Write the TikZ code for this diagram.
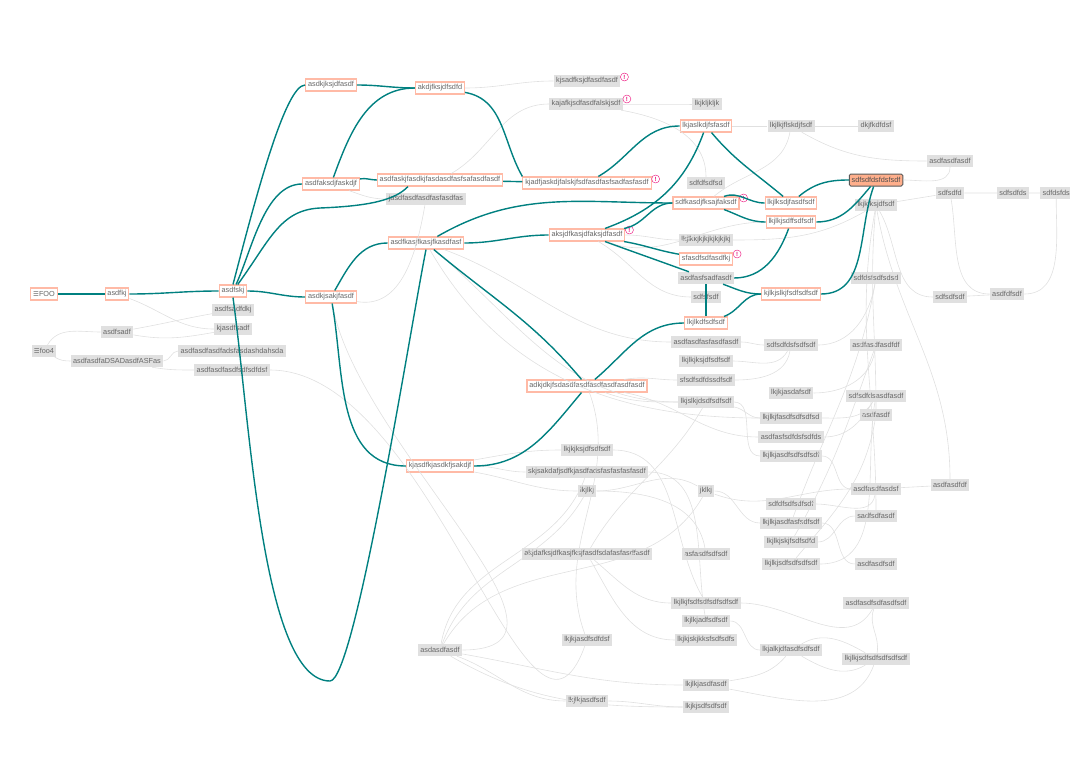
\documentclass[tikz,border=0pt]{standalone}
\usepackage{fontspec}
\setmainfont{Liberation Sans}
\newfontfamily\symf{DejaVu Sans}
\begin{document}
\begin{tikzpicture}[x=1pt,y=-1pt,
  every node/.style={font=\fontsize{7.3}{8}\selectfont,text=black!60,inner sep=2.4pt,minimum height=12pt},
  o/.style={draw=orange!45!red!35!white,line width=1.1pt,fill=white},
  g/.style={fill=black!12},
  h/.style={draw=black!65,fill=orange!60!red!45!white,line width=1pt,rounded corners=1.5pt,text=black!70},
  bang/.style={circle,draw=magenta!80!red,fill=white,text=magenta!80!red,inner sep=0pt,minimum size=8pt,minimum height=8pt,font=\fontsize{6}{6}\selectfont\bfseries},
  te/.style={draw=teal,line width=1.4pt},
  ge/.style={draw=black!12,line width=0.6pt}]
\useasboundingbox (0,0) rectangle (1070,757);
% nodes
\node[o] (foo) at (44,294) {{\symf\fontsize{6.5}{6}\selectfont ☰}FOO};
\node[o] (a1) at (117,294) {asdfkj};
\node[o] (a2) at (233,291) {asdfskj};
\node[g] (a3) at (233,310) {asdfsadfdkj};
\node[g] (a4) at (233,329) {kjasdfsadf};
\node[g] (a5) at (117,332) {asdfsadf};
\node[g] (foo4) at (44,351) {{\symf\fontsize{6.5}{6}\selectfont ☰}foo4};
\node[g] (a6) at (232,351) {asdfasdfasdfadsfasdashdahsda};
\node[g] (a7) at (117,361) {asdfasdfaDSADasdfASFas};
\node[g] (a8) at (232,370) {asdfasdfasdfsdfsdfdsf};
\node[o] (b1) at (331,85) {asdkjksjdfasdf};
\node[o] (b2) at (440,88) {akdjfksjdfsdfd};
\node[o] (b3) at (331,184) {asdfaksdjfaskdjf};
\node[o] (b4) at (440,180) {asdfaskjfasdkjfasdasdfasfsafasdfasdf};
\node[g] (b5) at (426,199) {jasdfasdfasdfasfasdfas};
\node[o] (b6) at (426,243) {asdfkasjfkasjfkasdfasf};
\node[o] (b7) at (331,297) {asdkjsakjfasdf};
\node[g] (c1) at (587,81) {kjsadfksjdfasdfasdf};
\node[g] (c2) at (586,104) {kajafkjsdfasdfalskjsdf};
\node[g] (c3) at (707,104) {lkjkljkljk};
\node[o] (c4) at (706,126) {lkjaslkdjfsfasdf};
\node[g] (c5) at (791,126) {lkjlkjflskdjfsdf};
\node[g] (c6) at (876,126) {dkjfkdfdsf};
\node[g] (c7) at (950,161) {asdfasdfasdf};
\node[o] (c8) at (587,183) {kjadfjaskdjfalskjfsdfasdfasfsadfasfasdf};
\node[g] (c9) at (706,183) {sdfdfsdfsd};
\node[o] (d1) at (706,203) {sdfkasdjfksajfaksdf};
\node[o] (d2) at (791,203) {lkjlksdjfasdfsdf};
\node[o] (d3) at (791,222) {lkjlkjsdffsdfsdf};
\node[h] (hh) at (876,180) {sdfsdfdsfdsfsdf};
\node[g] (d4) at (876,205) {lkjkjksjdfsdf};
\node[g] (d5) at (950,193) {sdfsdfd};
\node[g] (d6) at (1013,193) {sdfsdfds};
\node[g,anchor=west] (d7) at (1040,193) {sdfdsfds};
\node[o] (e1) at (587,235) {aksjdfkasjdfaksjdfasdf};
\node[g] (e2) at (706,240) {lkjlkkjkjkjkjkjkjkj};
\node[o] (e3) at (706,259) {sfasdfsdfasdfkj};
\node[g] (e4) at (706,278) {asdfasfsadfasdf};
\node[g] (e5) at (706,297) {sdfsfsdf};
\node[o] (e6) at (791,294) {kjlkjslkjfsdfsdfsdf};
\node[g] (e7) at (876,278) {sdfdsfsdfsdsd};
\node[g] (e8) at (950,297) {sdfsdfsdf};
\node[g] (e9) at (1007,294) {asdfdfsdf};
\node[o] (f1) at (706,323) {lkjlkdfsdfsdf};
\node[g] (f2) at (706,342) {asdfasdfasfasdfasdf};
\node[g] (f3) at (791,345) {sdfsdfdsfsdfsdf};
\node[g] (f4) at (876,345) {asdfasdfasdfdf};
\node[g] (f5) at (706,361) {lkjlkjksjdfsdfsdf};
\node[g] (f6) at (706,380) {sfsdfsdfdssdfsdf};
\node[o] (f7) at (587,386) {adkjdkjfsdasdfasdfasdfasdfasdfasdf};
\node[g] (f8) at (791,393) {lkjkjasdafsdf};
\node[g] (f9) at (876,396) {sdfsdfdsasdfasdf};
\node[g] (g1) at (706,402) {lkjslkjdsdfsdfsdf};
\node[g] (g2) at (876,415) {asdfasdf};
\node[g] (g3) at (791,418) {lkjlkjfasdfsdfsdfsd};
\node[g] (g4) at (791,437) {asdfasfsdfdsfsdfds};
\node[g] (g5) at (587,450) {lkjkjksjdfsdfsdf};
\node[g] (g6) at (791,456) {lkjlkjasdfsdfsdfsdf};
\node[o] (g7) at (440,466) {kjasdfkjasdkfjsakdjf};
\node[g] (g8) at (587,472) {skjsakdafjsdfkjasdfadsfasfasfasfasdf};
\node[g] (g9) at (587,491) {lkjlkj};
\node[g] (h1) at (706,491) {jklkj};
\node[g] (h2) at (876,489) {asdfasdfasdsf};
\node[g] (h3) at (950,485) {asdfasdfdf};
\node[g] (h4) at (791,504) {sdfdfsdfsdfsdf};
\node[g] (h5) at (876,516) {sadfsdfasdf};
\node[g] (h6) at (791,523) {lkjlkjasdfasfsdfsdf};
\node[g] (h7) at (791,542) {lkjlkjskjfsdfsdfd};
\node[g] (h8) at (587,554) {akjdafksjdfkasjfksjfasdfsdafasfasdfasdf};
\node[g] (h9) at (706,554) {asfasdfsdfsdf};
\node[g] (i1) at (791,564) {lkjlkjsdfsdfsdfsdf};
\node[g] (i2) at (876,564) {asdfasdfsdf};
\node[g] (i3) at (706,603) {lkjlkjfsdfsdfsdfsdfsdf};
\node[g] (i4) at (876,603) {asdfasdfsdfasdfsdf};
\node[g] (i5) at (706,621) {lkjlkjadfsdfsdf};
\node[g] (i6) at (706,640) {lkjkjskjkksfsdfsdfs};
\node[g] (i7) at (587,640) {lkjkjasdfsdfdsf};
\node[g] (i8) at (440,650) {asdasdfasdf};
\node[g] (i9) at (791,650) {lkjalkjdfasdfsdfsdf};
\node[g] (j1) at (876,659) {lkjlkjsdfsdfsdfsdfsdf};
\node[g] (j2) at (706,685) {lkjlkjasdfasdf};
\node[g] (j3) at (587,701) {lkjlkjasdfsdf};
\node[g] (j4) at (706,707) {lkjkjsdfsdfsdf};
% badges
\node[bang] at (c1.east) [xshift=4pt,yshift=4pt] {!};
\node[bang] at (c2.east) [xshift=4pt,yshift=5pt] {!};
\node[bang] at (c8.east) [xshift=4pt,yshift=4pt] {!};
\node[bang] at (d1.east) [xshift=4pt,yshift=5pt] {!};
\node[bang] at (e1.east) [xshift=4pt,yshift=5pt] {!};
\node[bang] at (e3.east) [xshift=4pt,yshift=5pt] {!};
% gray edges
\begin{scope}[ge]
\draw (a1) to[out=-20,in=180] (a4);
\draw (a5) to[out=10,in=190] (a3);
\draw (a5) to[out=-10,in=190] (a4);
\draw (foo4) to[out=60,in=180] (a5);
\draw (foo4) to[out=-30,in=180] (a7);
\draw (a7) to[out=0,in=180] (a6);
\draw (a7) to[out=-10,in=180] (a8);
\draw (b3) to[out=-20,in=180] (b5);
\draw (b2) to[out=0,in=180] (c1);
\draw (b7) to[out=-10,in=-100] (b5);
\draw (c2) to[out=0,in=180] (c3);
\draw (b4) to[out=30,in=180] (c2);
\draw (c2) to[out=-10,in=90] (c9);
\draw (c4) -- (c5) -- (c6);
\draw (c5) to[out=-30,in=180] (c7);
\draw (c7) to[out=-90,in=0] (hh);
\draw (d4) -- (d5) -- (d6) -- (d7);
\draw (d5) to[out=-80,in=180] (e9);
\draw (e9) to[out=0,in=-90] (d7);
\draw (d4) to[out=-60,in=180] (e8);
\draw (e8) -- (e9);
\draw (c5) to[out=-100,in=40] (d1);
\draw (e1) to[out=0,in=180] (e2);
\draw (e1) to[out=-20,in=180] (d3);
\draw (e2) to[out=0,in=-150] (d4);
\draw (e1) to[out=-30,in=180] (e5);
\draw (b6) to[out=-20,in=180] (f2);
\draw (b6) to[out=-40,in=180] (g1);
\draw (b6) to[out=-60,in=180] (g3);
\draw (f7) to[out=10,in=180] (f6);
\draw (f7) to[out=-10,in=180] (g4);
\draw (f7) to[out=-20,in=180] (g1);
\draw (f2) to[out=0,in=180] (f3);
\draw (f5) to[out=0,in=-120] (f3);
\draw (f6) to[out=0,in=-100] (f3);
\draw (f3) to[out=0,in=-100] (e7);
\draw (f8) to[out=0,in=-100] (f4);
\draw (g1) to[out=0,in=180] (g6);
\draw (g1) to[out=-10,in=180] (g3);
\draw (g3) to[out=0,in=-120] (f9);
\draw (g4) to[out=0,in=-120] (f9);
\draw (g6) to[out=0,in=180] (h2);
\draw (h2) -- (h3);
\draw (d4) to[out=-80,in=90] (h3);
\draw (d4) to[out=-100,in=90] (h5);
\draw (d4) to[out=-95,in=90] (g2);
\draw (e7) to[out=-100,in=70] (h6);
\draw (f4) to[out=-110,in=60] (h7);
\draw (g2) to[out=-100,in=50] (i1);
\draw (h1) to[out=0,in=180] (h6);
\draw (h1) to[out=-20,in=180] (h2);
\draw (h1) to[out=150,in=0] (g9);
\draw (h4) to[out=0,in=-100] (h2);
\draw (h6) to[out=0,in=180] (i2);
\draw (h7) to[out=0,in=180] (h5);
\draw (i1) to[out=0,in=-100] (f9);
\draw (g5) to[out=0,in=120] (i3);
\draw (g8) to[out=0,in=100] (i5);
\draw (g9) to[out=0,in=100] (h9);
\draw (g7) to[out=10,in=180] (g5);
\draw (g7) to[out=-10,in=180] (g9);
\draw (g7) to[out=0,in=180] (g8);
\draw (h8) to[out=60,in=-120] (g1);
\draw (i8) to[out=70,in=-120] (g9);
\draw (i8) to[out=80,in=-110] (g8);
\draw (i8) to[out=-10,in=180] (j2);
\draw (i8) to[out=-20,in=180] (j3);
\draw (i8) to[out=-30,in=180] (j4);
\draw (j3) to[out=0,in=180] (j4);
\draw (i7) to[out=110,in=-70] (f7);
\draw (h8) to[out=-40,in=180] (i3);
\draw (h8) to[out=-60,in=180] (i6);
\draw (i3) to[out=0,in=-120] (i4);
\draw (i5) to[out=0,in=180] (i9);
\draw (i9) to[out=30,in=150] (j1);
\draw (i9) to[out=-30,in=-150] (j1);
\draw (j1) to[out=80,in=-110] (i4);
\draw (j2) to[out=10,in=-130] (i9);
\draw (j2) to[out=-10,in=-110] (j1);
\draw (i7) to[out=-110,in=0] (a8);
\draw (b7) to[out=-80,in=0] (i8);
\draw (h1) to[out=-120,in=60] (i8);
\end{scope}
% teal edges
\begin{scope}[te]
\draw (foo) -- (a1);
\draw (a1) to[out=0,in=180] (a2);
\draw (a2.north) .. controls (255,200) and (285,85) .. (b1.west);
\draw (b1) to[out=0,in=180] (b2);
\draw (a2) to[out=65,in=180,looseness=0.8] (b3);
\draw (b3) to[out=70,in=180] (b2);
\draw (b3) to[out=10,in=180] (b4);
\draw (a2) .. controls (270,240) and (280,210) .. (320,208) .. controls (370,206) and (395,200) .. ([xshift=-32pt]b4.south);
\draw (b4) -- (c8);
\draw (b2) to[out=-10,in=120] (c8.north west);
\draw (a2) to[out=0,in=180] (b7);
\draw (b7) to[out=60,in=180] (b6);
\draw (b7) to[out=-80,in=180] (g7);
\draw (a2.south) .. controls (250,420) and (262,681) .. (330,681) .. controls (355,681) and (410,330) .. (b6.south);
\draw (b6) to[out=-40,in=130] (f7);
\draw (f7) to[out=40,in=180] (f1);
\draw (g7) to[out=0,in=-130] (f7);
\draw (b6) to[out=30,in=180] (d1);
\draw (b6) to[out=0,in=180] (e1);
\draw (c8) to[out=30,in=180] (c4);
\draw (e1) to[out=20,in=-110] (c4);
\draw (c4) to[out=-50,in=140] (d2);
\draw (d2) to[out=40,in=180] (hh);
\draw (d3) to[out=0,in=-130] (hh);
\draw (e6) to[out=0,in=-110] (hh);
\draw (d1) to[out=-20,in=180] (d3);
\draw (d1) to[out=20,in=180] (d2);
\draw (e1) to[out=10,in=180] (d1);
\draw (e1) to[out=-10,in=170] (e3);
\draw (e1) to[out=-20,in=160] (e4);
\draw (e4) to[out=0,in=-110] (d3);
\draw (e4) to[out=-20,in=180] (e6);
\draw (f1) to[out=20,in=180] (e6);
\draw (e4) -- (f1);
\end{scope}
\end{tikzpicture}
\end{document}
